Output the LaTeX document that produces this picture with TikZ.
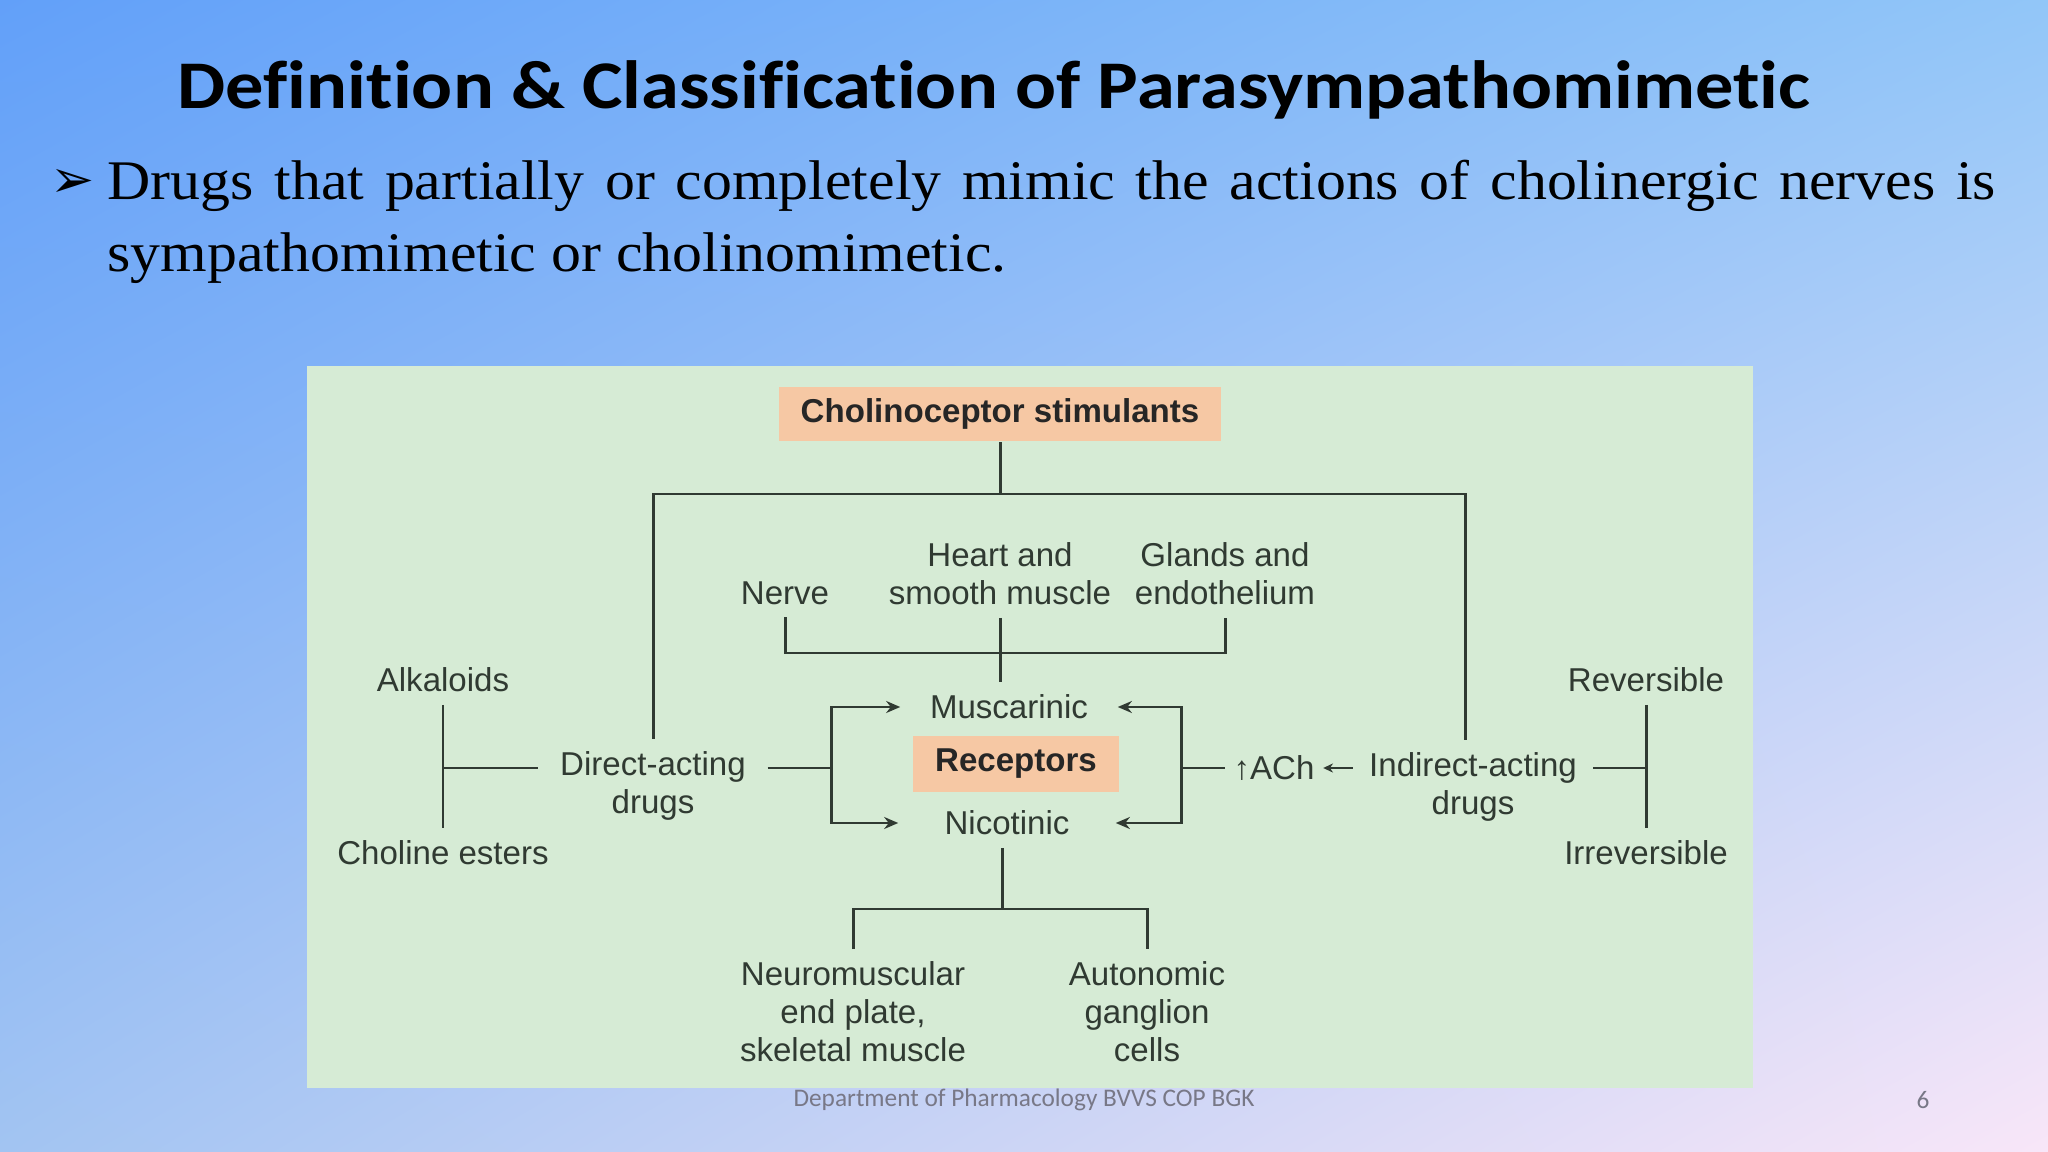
\documentclass[tikz,border=0pt]{standalone}
\usepackage{fontspec}
\setmainfont{Liberation Serif}[FakeStretch=1.07]
\newfontfamily\slidefont{Carlito}
\newfontfamily\titlefont{Carlito}[FakeStretch=1.12, Ligatures=CommonOff]
\newfontfamily\diagfont{Liberation Sans}
\newfontfamily\dingfont{DejaVu Sans}
\usetikzlibrary{arrows.meta, positioning, shadings}

\definecolor{bgtl}{RGB}{98,160,249}
\definecolor{bgtr}{RGB}{146,198,248}
\definecolor{bgbl}{RGB}{162,196,242}
\definecolor{bgbr}{RGB}{248,230,248}
\definecolor{panel}{RGB}{214,235,213}
\definecolor{peach}{RGB}{246,200,164}
\definecolor{ink}{RGB}{48,58,50}
\definecolor{foot}{RGB}{120,120,135}

\begin{document}
\begin{tikzpicture}[x=0.01cm, y=-0.01cm,
  lbl/.style={font=\diagfont\fontsize{9.4}{10.8}\selectfont, text=ink, align=center, inner xsep=6pt, inner ysep=3.4pt},
  hdr/.style={lbl, font=\diagfont\bfseries\fontsize{9.4}{10.8}\selectfont, fill=peach, text=black!85},
  ln/.style={draw=ink, line width=0.85pt},
  arr/.style={ln, -{Stealth[length=4pt, width=3.4pt]}}]

% slide background
\shade[upper left=bgtl, upper right=bgtr, lower left=bgbl, lower right=bgbr] (0,0) rectangle (2048,1152);
\useasboundingbox (0,0) rectangle (2048,1152);

% heading and bullet
\node[anchor=base, inner sep=0, font=\titlefont\bfseries\fontsize{19.4}{23}\selectfont] (title) at (994,109) {Definition \& Classification of Parasympathomimetic};
\node[anchor=base west, inner sep=0, font=\dingfont\fontsize{15}{18}\selectfont] (bullet) at (50,198) {➢};
\node[anchor=base west, inner sep=0, font=\fontsize{15.9}{20}\selectfont] (line1) at (107,200) {\makebox[18.87cm][s]{Drugs that partially or completely mimic the actions of cholinergic nerves is}};
\node[anchor=base west, inner sep=0, font=\fontsize{15.9}{20}\selectfont] (line2) at (107,272) {sympathomimetic or cholinomimetic.};

% figure panel
\fill[panel] (307,366) rectangle (1753,1088);

\node[hdr, minimum width=4.41cm, minimum height=0.54cm] (stim) at (1000,414) {Cholinoceptor stimulants};
\node[lbl] (nerve) at (785,593) {Nerve};
\node[lbl] (heart) at (1000,574) {Heart and\\smooth muscle};
\node[lbl] (glands) at (1225,574) {Glands and\\endothelium};
\node[lbl, minimum width=2.16cm] (musc) at (1009,707) {Muscarinic};
\node[hdr, minimum width=2.06cm, minimum height=0.55cm] (recep) at (1016,764) {Receptors};
\node[lbl, minimum width=2.16cm] (nic) at (1007,823) {Nicotinic};
\node[lbl] (direct) at (653,786) {Direct-acting\\drugs};
\node[lbl] (alk) at (443,680) {Alkaloids};
\node[lbl] (chol) at (443,853) {Choline esters};
\node[lbl, inner xsep=2.3pt] (ach) at (1274,768) {↑ACh};
\node[lbl, inner xsep=4.5pt] (indirect) at (1473,787) {Indirect-acting\\drugs};
\node[lbl] (rev) at (1646,680) {Reversible};
\node[lbl] (irr) at (1646,853) {Irreversible};
\node[lbl] (neuro) at (853,1012) {Neuromuscular\\end plate,\\skeletal muscle};
\node[lbl] (gang) at (1147,1012) {Autonomic\\ganglion\\cells};

\coordinate (top) at (1000,494);
\coordinate (topl) at (653,494);
\coordinate (topr) at (1465,494);
\coordinate (brk) at (1000,653);
\coordinate (dj) at (831,768);
\coordinate (ij) at (1181,768);
\coordinate (lj) at (443,768);
\coordinate (rj) at (1646,768);
\coordinate (nj) at (1002,909);

\draw[ln] (stim) -- (top);
\draw[ln] (topl |- direct.north) -- (topl) -- (topr) -- (topr |- indirect.north);
\draw[ln] (nerve) -- (nerve |- brk) -| (glands);
\draw[ln] (heart) -- (heart |- musc.north);
\draw[ln] (direct.east |- dj) -- (dj);
\draw[arr] (dj) |- (musc);
\draw[arr] (dj) |- (nic);
\draw[arr] (ij) |- (musc);
\draw[arr] (ij) |- (nic);
\draw[ln] (ach) -- (ij);
\draw[ln, line width=0.55pt, -{Stealth[length=2.8pt, width=2.6pt]}] (indirect.west |- ach) -- (ach);
\draw[ln] (indirect.east |- rj) -- (rj);
\draw[ln] (rev) -- (irr);
\draw[ln] (alk) -- (chol);
\draw[ln] (lj) -- (direct.west |- lj);
\draw[ln] (nj |- nic.south) -- (nj);
\draw[ln] (neuro) |- (nj) -| (gang);

% footer
\node[font=\slidefont\fontsize{7.2}{9}\selectfont, text=foot] (dept) at (1024,1100) {Department of Pharmacology BVVS COP BGK};
\node[font=\slidefont\fontsize{7.2}{9}\selectfont, text=foot] (page) at (1923,1100) {6};
\end{tikzpicture}
\end{document}
